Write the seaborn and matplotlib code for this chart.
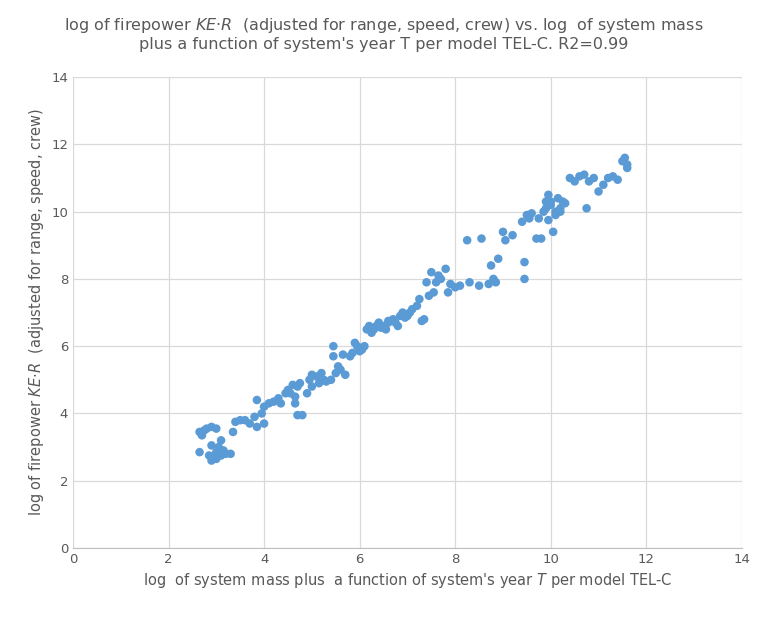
import matplotlib
matplotlib.use("Agg")
import matplotlib.pyplot as plt
import seaborn as sns
import pandas as pd

x_vals = [2.65,2.7,2.75,2.8,2.9,3.0,2.65,2.85,2.9,2.95,3.0,3.05,3.1,3.15,3.2,3.3,2.9,3.0,3.1,
 3.35,3.4,3.5,3.6,3.7,3.8,3.85,3.85,3.95,4.0,4.0,4.1,4.2,4.3,4.35,4.5,4.55,4.6,4.65,4.65,4.7,4.7,4.8,4.75,4.9,4.95,5.0,5.1,5.15,5.2,5.3,5.4,5.45,5.45,5.5,5.55,5.6,5.65,5.7,5.8,5.85,5.9,5.95,6.0,6.05,6.1,
 6.2,6.25,6.3,6.4,6.5,6.55,6.6,6.7,6.8,6.85,6.9,7.0,7.1,7.2,7.25,7.3,7.35,7.4,7.45,7.5,7.55,7.6,7.65,7.7,7.8,7.85,7.9,8.0,8.1,8.25,8.3,8.5,8.55,8.7,8.75,8.8,8.85,8.9,9.0,9.05,9.2,9.4,9.45,9.45,9.5,9.55,9.6,9.7,9.75,9.8,9.85,9.9,9.95,10.0,10.05,10.1,10.15,10.2,10.25,10.3,10.4,10.5,10.6,10.7,10.75,10.8,10.9,11.0,11.1,11.2,11.3,11.55,11.6,11.6,11.5,11.4,
 6.15,6.35,6.45,6.6,6.75,6.95,7.05,5.25,5.0,4.45,9.9,10.0,10.1,9.95,10.2]
y_vals = [3.45,3.35,3.5,3.55,3.6,3.55,2.85,2.75,2.6,2.7,2.85,3.0,3.2,2.9,2.8,2.8,3.05,2.65,2.75,
 3.45,3.75,3.8,3.8,3.7,3.9,4.4,3.6,4.0,4.2,3.7,4.3,4.35,4.45,4.3,4.7,4.6,4.85,4.5,4.3,4.8,3.95,3.95,4.9,4.6,5.0,4.8,5.1,4.9,5.2,4.95,5.0,6.0,5.7,5.2,5.4,5.3,5.75,5.15,5.7,5.8,6.1,6.0,5.85,5.9,6.0,
 6.6,6.4,6.5,6.7,6.6,6.5,6.7,6.8,6.6,6.9,7.0,6.9,7.1,7.2,7.4,6.75,6.8,7.9,7.5,8.2,7.6,7.9,8.1,8.0,8.3,7.6,7.85,7.75,7.8,9.15,7.9,7.8,9.2,7.85,8.4,8.0,7.9,8.6,9.4,9.15,9.3,9.7,8.5,8.0,9.9,9.8,9.95,9.2,9.8,9.2,10.0,10.3,10.5,10.2,9.4,10.0,10.4,10.1,10.3,10.25,11.0,10.9,11.05,11.1,10.1,10.9,11.0,10.6,10.8,11.0,11.05,11.6,11.3,11.4,11.5,10.95,
 6.5,6.6,6.55,6.75,6.7,6.85,7.0,5.0,5.15,4.6,10.1,10.3,9.9,9.75,10.0]

df = pd.DataFrame({"x": x_vals, "y": y_vals})

fig = plt.figure(figsize=(7.68, 6.22), dpi=100)
ax = fig.add_axes([0.095, 0.119, 0.871, 0.757])
sns.scatterplot(data=df, x="x", y="y", ax=ax, color="#5B9BD5", s=38, edgecolor="none")
ax.set_xlim(0, 14); ax.set_ylim(0, 14)
ax.set_xticks(range(0, 15, 2)); ax.set_yticks(range(0, 15, 2))
ax.grid(True, color="#D9D9D9", linewidth=0.9)
ax.set_axisbelow(True)
for s in ["top", "right", "left"]:
    ax.spines[s].set_visible(False)
ax.spines["bottom"].set_color("#BFBFBF")
ax.tick_params(length=0, colors="#595959", labelsize=9.5)
ax.set_xlabel("log  of system mass plus  a function of system's year $T$ per model TEL-C", color="#595959", fontsize=10.5)
ax.set_ylabel("log of firepower $KE{\\cdot}R$  (adjusted for range, speed, crew)", color="#595959", fontsize=10.5)
fig.suptitle("log of firepower $KE{\\cdot}R$  (adjusted for range, speed, crew) vs. log  of system mass\nplus a function of system's year T per model TEL-C. R2=0.99",
             color="#595959", fontsize=11.5, y=0.975)
fig.savefig("out.png", dpi=100, facecolor="white")
